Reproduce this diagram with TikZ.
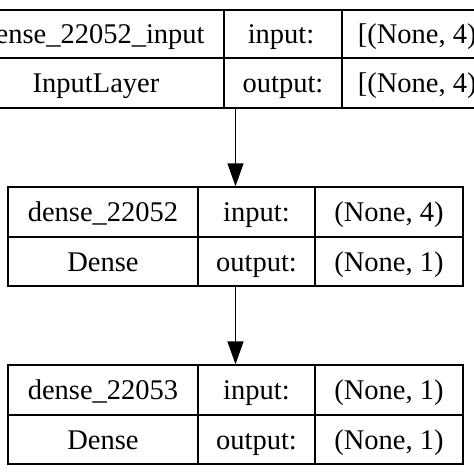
\documentclass[tikz,border=0pt]{standalone}
\usepackage{fontspec}
\setmainfont{Liberation Serif}
\usetikzlibrary{arrows.meta}
\begin{document}
\begin{tikzpicture}[x=1pt,y=-1pt,
  txt/.style={font=\fontsize{28.5}{30}\selectfont, inner sep=0pt, anchor=base},
  frame/.style={draw=black, line width=1.5pt, rectangle, inner sep=0pt},
  rule/.style={draw=black, line width=1.5pt},
  conn/.style={draw=black, line width=1.6pt, -{Triangle[length=23pt,width=16pt]}}]
\useasboundingbox (0,0) rectangle (474,474);
\fill[white] (0,0) rectangle (474,474);
\clip (0,0) rectangle (474,474);
% top box
\node[frame, minimum width=525pt, minimum height=98pt] (b1) at (235.5,59) {};
\draw[rule] (-27,58) -- (498,58);
\draw[rule] (224,10) -- (224,108);
\draw[rule] (342,10) -- (342,108);
\node[txt] (t11) at (93,43.5) {dense\_22052\_input};
\node[txt] (t12) at (281,43.5) {input:};
\node[txt] (t13) at (422,43.5) {[(None, 4)]};
\node[txt] (t21) at (96,92.5) {InputLayer};
\node[txt] (t22) at (283,92.5) {output:};
\node[txt] (t23) at (422,92.5) {[(None, 4)]};
% middle box
\node[frame, minimum width=455pt, minimum height=99pt] (b2) at (235.5,236.5) {};
\draw[rule] (8,237) -- (463,237);
\draw[rule] (198,187) -- (198,286);
\draw[rule] (315,187) -- (315,286);
\node[txt] (m11) at (103,221.5) {dense\_22052};
\node[txt] (m12) at (256.5,221.5) {input:};
\node[txt] (m13) at (389,221.5) {(None, 4)};
\node[txt] (m21) at (103,271) {Dense};
\node[txt] (m22) at (256.5,271) {output:};
\node[txt] (m23) at (389,271) {(None, 1)};
% bottom box
\node[frame, minimum width=455pt, minimum height=99pt] (b3) at (235.5,414.5) {};
\draw[rule] (8,415) -- (463,415);
\draw[rule] (198,365) -- (198,464);
\draw[rule] (315,365) -- (315,464);
\node[txt] (n11) at (103,399.5) {dense\_22053};
\node[txt] (n12) at (256.5,399.5) {input:};
\node[txt] (n13) at (389,399.5) {(None, 1)};
\node[txt] (n21) at (103,449) {Dense};
\node[txt] (n22) at (256.5,449) {output:};
\node[txt] (n23) at (389,449) {(None, 1)};
% connectors
\draw[conn] (b1.south) -- (b2.north);
\draw[conn] (b2.south) -- (b3.north);
\end{tikzpicture}
\end{document}
